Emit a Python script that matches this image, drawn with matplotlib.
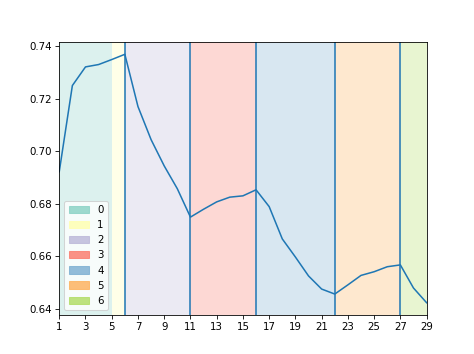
import numpy as np
import matplotlib
matplotlib.use('Agg')
import matplotlib.pyplot as plt
from matplotlib.patches import Patch

x = np.arange(1, 30)
y = [0.6923, 0.7251, 0.7322, 0.7331, 0.7350, 0.7370, 0.7171, 0.7045, 0.6945, 0.6858,
     0.6750, 0.6780, 0.6808, 0.6826, 0.6831, 0.6854, 0.6790, 0.6667, 0.6598, 0.6526,
     0.6476, 0.6457, 0.6492, 0.6528, 0.6542, 0.6561, 0.6568, 0.6480, 0.6424]

# regions: (label, start, end)
region_labels = ['0', '1', '2', '3', '4', '5', '6']
region_bounds = [(1, 5), (5, 6), (6, 11), (11, 16), (16, 22), (22, 27), (27, 29)]
change_points = [6, 11, 16, 22, 27]

colors = plt.cm.Set3.colors

# default 6.4x4.8 figure, saved small
fig, ax = plt.subplots(figsize=(474 / 74, 354 / 74), dpi=74)
for i, (a, b) in enumerate(region_bounds):
    ax.axvspan(a, b, color=colors[i], alpha=0.3, lw=0)
ax.plot(x, y, color='C0')
for cp in change_points:
    ax.axvline(cp, color='C0')

ax.set_xlim(1, 29)
ax.set_ylim(0.6377, 0.7415)
ax.set_xticks(np.arange(1, 30, 2))
ax.set_yticks(np.arange(0.64, 0.741, 0.02))

handles = [Patch(color=colors[i], alpha=0.85, label=region_labels[i]) for i in range(len(region_labels))]
ax.legend(handles=handles, loc='lower left')

plt.savefig('out.png', dpi=74)
